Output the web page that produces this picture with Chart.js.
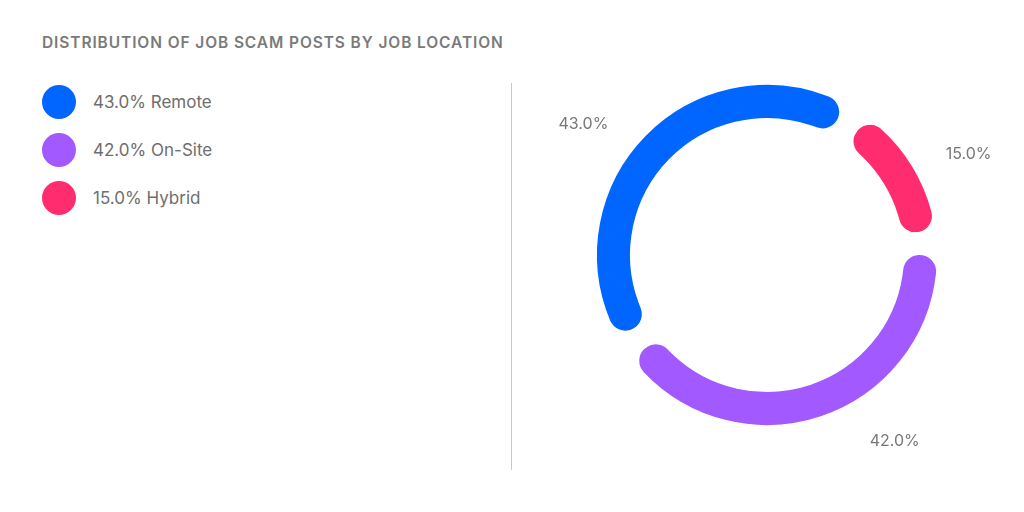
<!DOCTYPE html>
<html lang="en">
<head>
  <meta charset="UTF-8">
  <title>Job Scam Posts by Location</title>
  <script src="https://cdn.jsdelivr.net/npm/chart.js"></script>
  <style>
    html, body { margin: 0; padding: 0; background: #fff; }
    body { width: 1024px; height: 512px; position: relative; overflow: hidden; font-family: Inter, "Noto Sans", sans-serif; }
    h1 {
      position: absolute; left: 42px; top: 33px; margin: 0;
      font-size: 15.5px; line-height: 20px; font-weight: 600; color: #7a7a7a;
      letter-spacing: 0.9px; white-space: nowrap;
    }
    #legend { position: absolute; left: 42px; top: 85px; margin: 0; padding: 0; list-style: none; }
    #legend li { display: flex; align-items: center; height: 34px; margin-bottom: 14px; }
    #legend .dot { width: 34px; height: 34px; border-radius: 50%; margin-right: 17px; }
    #legend span { font-size: 17px; color: #6e6e6e; }
    .divider { position: absolute; left: 511px; top: 83px; width: 1px; height: 387px; background: #c9c9c9; }
    #chartWrap { position: absolute; left: 520px; top: 0; width: 504px; height: 512px; }
  </style>
</head>
<body>
  <h1>DISTRIBUTION OF JOB SCAM POSTS BY JOB LOCATION</h1>
  <ul id="legend"></ul>
  <div class="divider"></div>
  <div id="chartWrap"><canvas id="donut" width="504" height="512"></canvas></div>

  <script>
    const categories = ['Remote', 'On-Site', 'Hybrid'];
    const shares = [43.0, 42.0, 15.0];
    const colors = ['#0066ff', '#a259ff', '#ff2d6f'];

    // chart goes clockwise, picture runs the other way round
    const drawOrder = [2, 1, 0];
    const labelNudge = [4.7, -15.8, -8.8]; // degrees, per slice in drawOrder

    const fmt = v => v.toFixed(1) + '%';

    const legend = document.getElementById('legend');
    categories.forEach((name, i) => {
      const li = document.createElement('li');
      li.innerHTML = `<div class="dot" style="background:${colors[i]}"></div><span>${fmt(shares[i])} ${name}</span>`;
      legend.appendChild(li);
    });

    const outerLabels = {
      id: 'outerLabels',
      afterDatasetsDraw(chart, args, opts) {
        const ctx = chart.ctx;
        const meta = chart.getDatasetMeta(0);
        const values = chart.data.datasets[0].data;
        ctx.save();
        ctx.font = opts.font;
        ctx.fillStyle = opts.color;
        ctx.textAlign = 'center';
        ctx.textBaseline = 'middle';
        meta.data.forEach((arc, i) => {
          const p = arc.getProps(['x', 'y', 'startAngle', 'endAngle', 'outerRadius'], true);
          const a = (p.startAngle + p.endAngle) / 2 + opts.nudge[i] * Math.PI / 180;
          const r = p.outerRadius + opts.gap;
          ctx.fillText(fmt(values[i]), p.x + Math.cos(a) * r, p.y + Math.sin(a) * r);
        });
        ctx.restore();
      }
    };

    new Chart(document.getElementById('donut'), {
      type: 'doughnut',
      data: {
        labels: drawOrder.map(i => categories[i]),
        datasets: [{
          data: drawOrder.map(i => shares[i]),
          backgroundColor: drawOrder.map(i => colors[i]),
          hoverBackgroundColor: drawOrder.map(i => colors[i]),
          borderColor: '#ffffff',
          hoverBorderColor: '#ffffff',
          borderWidth: 23,
          hoverBorderWidth: 23,
          borderRadius: 40,
          borderJoinStyle: 'round',
          offset: 0,
          hoverOffset: 0
        }]
      },
      options: {
        responsive: false,
        animation: false,
        rotation: 31.7,
        cutout: '69.15%',
        layout: { padding: { left: 54, right: 64, top: 62, bottom: 64 } },
        plugins: {
          legend: { display: false },
          tooltip: { enabled: false },
          outerLabels: { font: '16px Inter, "Noto Sans", sans-serif', color: '#777777', gap: 44, nudge: labelNudge }
        },
        events: []
      },
      plugins: [outerLabels]
    });
  </script>
</body>
</html>
